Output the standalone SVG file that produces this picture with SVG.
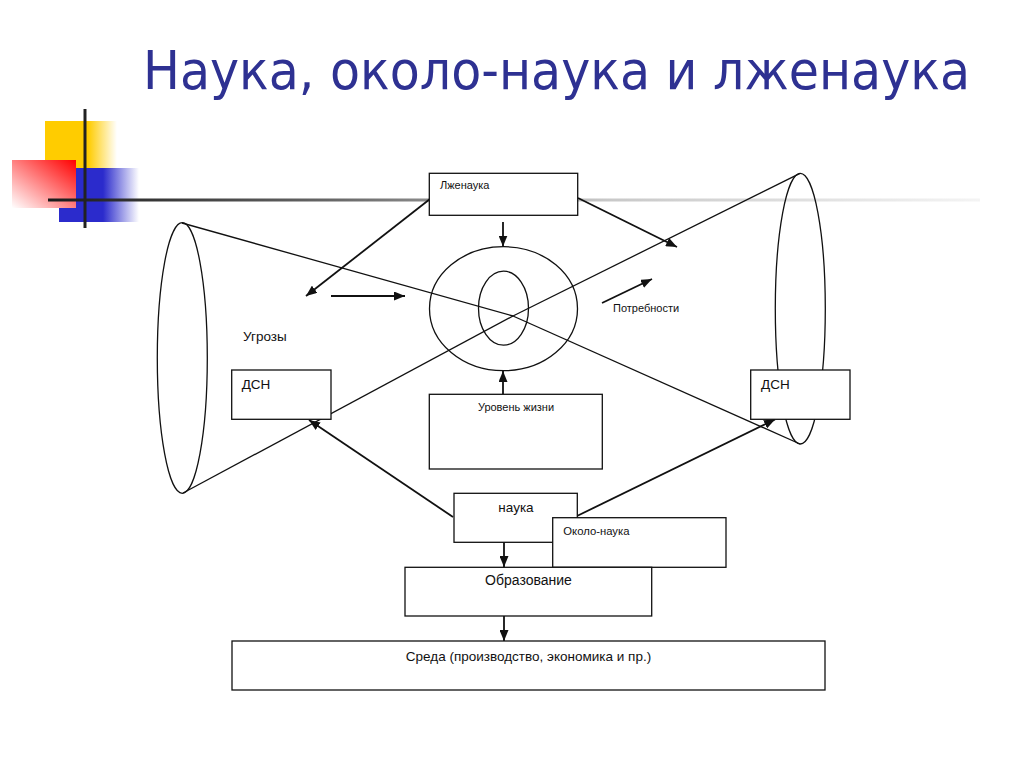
<svg xmlns="http://www.w3.org/2000/svg" width="1024" height="767" viewBox="0 0 1024 767">
<style>
.t{font-family:"Liberation Sans",Arial,sans-serif;fill:#111}
.box{fill:#fff;stroke:#111;stroke-width:1.3}
.shape{fill:none;stroke:#111;stroke-width:1.3}
.arr{stroke:#111;stroke-width:1.8;fill:none;marker-end:url(#ah)}
</style>
<defs>
<marker id="ah" markerUnits="userSpaceOnUse" markerWidth="11" markerHeight="9" refX="11" refY="4.5" orient="auto">
<path d="M0,0 L11,4.5 L0,9 z" fill="#111"/>
</marker>
<linearGradient id="gy" x1="0" y1="0" x2="1" y2="0">
<stop offset="0" stop-color="#ffcc00"/><stop offset="0.6" stop-color="#ffcc00"/><stop offset="1" stop-color="#ffcc00" stop-opacity="0"/>
</linearGradient>
<linearGradient id="gb" x1="0" y1="0" x2="1" y2="0">
<stop offset="0" stop-color="#2b2bcc"/><stop offset="0.55" stop-color="#2b2bcc"/><stop offset="1" stop-color="#2b2bcc" stop-opacity="0"/>
</linearGradient>
<linearGradient id="gr" x1="0" y1="1" x2="1" y2="0">
<stop offset="0" stop-color="#ffffff"/><stop offset="0.5" stop-color="#ff8080"/><stop offset="1" stop-color="#ff0000"/>
</linearGradient>
<linearGradient id="gl" gradientUnits="userSpaceOnUse" x1="48" y1="0" x2="980" y2="0">
<stop offset="0" stop-color="#1a1a1a"/><stop offset="0.3" stop-color="#666"/><stop offset="0.6" stop-color="#c8c8c8"/><stop offset="1" stop-color="#f4f4f4"/>
</linearGradient>
</defs>
<rect width="1024" height="767" fill="#fff"/>
<g id="decoration">
<rect x="45" y="121" width="72" height="48" fill="url(#gy)"/>
<rect x="59" y="168" width="80" height="54" fill="url(#gb)"/>
<rect x="12" y="160" width="64" height="48" fill="url(#gr)"/>
<line x1="48" y1="200" x2="980" y2="200" stroke="url(#gl)" stroke-width="3"/>
<line x1="85" y1="109" x2="85" y2="228" stroke="#222" stroke-width="3"/>
</g>
<text id="title" x="143" y="89" font-family="'DejaVu Sans Condensed','DejaVu Sans',sans-serif" font-size="54" fill="#2e3192" textLength="827" lengthAdjust="spacingAndGlyphs">Наука, около-наука и лженаука</text>
<g id="cone-left">
<ellipse class="shape" cx="182.3" cy="358" rx="25" ry="135.3"/>
<line class="shape" x1="182" y1="223" x2="513" y2="316"/>
<line class="shape" x1="183" y1="493" x2="513" y2="316"/>
</g>
<g id="cone-right">
<ellipse class="shape" cx="800.3" cy="308.7" rx="25" ry="135.3"/>
<line class="shape" x1="800" y1="173.4" x2="513" y2="316"/>
<line class="shape" x1="800" y1="444" x2="513" y2="316"/>
</g>
<g id="core">
<ellipse class="shape" cx="503.5" cy="308.7" rx="74" ry="62"/>
<ellipse class="shape" cx="503.5" cy="308.2" rx="25" ry="37"/>
</g>
<g id="connectors">
<line class="arr" x1="430" y1="199" x2="306" y2="296"/>
<line class="arr" x1="578" y1="198" x2="677" y2="247"/>
<line class="arr" x1="503" y1="222" x2="503" y2="246.5"/>
<line class="arr" x1="331" y1="296" x2="405" y2="296"/>
<line class="arr" x1="602" y1="303" x2="652" y2="279"/>
<line class="arr" x1="503" y1="394" x2="503" y2="371"/>
<line class="arr" x1="453" y1="517" x2="309" y2="420"/>
<line class="arr" x1="577" y1="516" x2="775" y2="419.5"/>
<line class="arr" x1="504" y1="542" x2="504" y2="567"/>
<line class="arr" x1="504" y1="616" x2="504" y2="641"/>
</g>
<g id="label-ugrozy"><text class="t" x="243" y="341" font-size="13.5">Угрозы</text></g>
<g id="label-potrebnosti"><text class="t" x="613" y="312" font-size="11">Потребности</text></g>
<g id="lzhenauka">
<rect class="box" x="429.3" y="173.3" width="148.4" height="42"/>
<text class="t" x="440" y="189" font-size="11">Лженаука</text>
</g>
<g id="dsn-left">
<rect class="box" x="231.7" y="370" width="99.3" height="49.3"/>
<text class="t" x="241.7" y="389" font-size="13.5">ДСН</text>
</g>
<g id="dsn-right">
<rect class="box" x="750.7" y="370" width="99.3" height="49.3"/>
<text class="t" x="761" y="389" font-size="13.5">ДСН</text>
</g>
<g id="uroven">
<rect class="box" x="429.3" y="394.3" width="173" height="74.7"/>
<text class="t" x="516" y="411" font-size="11" text-anchor="middle">Уровень жизни</text>
</g>
<g id="nauka">
<rect class="box" x="454" y="493.3" width="123.3" height="49"/>
<text class="t" x="516" y="512" font-size="13.5" text-anchor="middle">наука</text>
</g>
<g id="okolo-nauka">
<rect class="box" x="552.7" y="517.7" width="173.3" height="49.6"/>
<text class="t" x="563.3" y="535" font-size="11.3">Около-наука</text>
</g>
<g id="obrazovanie">
<rect class="box" x="405" y="567.3" width="246.7" height="48.7"/>
<text class="t" x="528.5" y="585" font-size="14" text-anchor="middle">Образование</text>
</g>
<g id="sreda">
<rect class="box" x="232" y="641" width="593" height="49"/>
<text class="t" x="528.5" y="661" font-size="13.5" text-anchor="middle">Среда (производство, экономика и пр.)</text>
</g>
</svg>
